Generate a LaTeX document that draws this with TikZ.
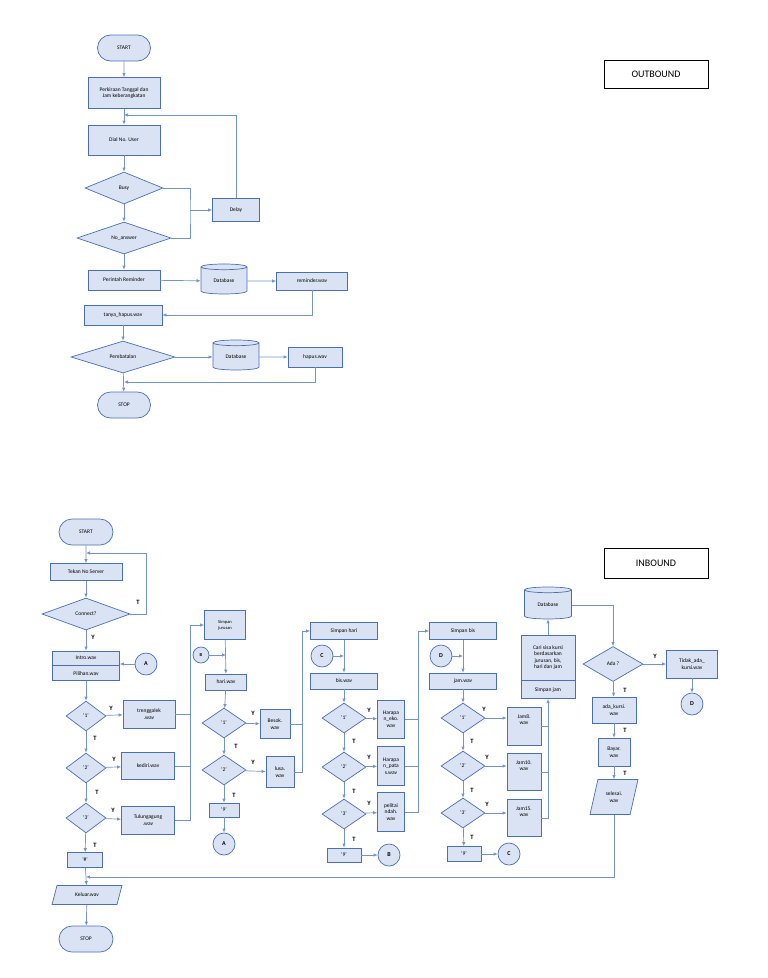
\documentclass[tikz,border=0pt]{standalone}
\usepackage{fontspec}
\setmainfont{Carlito}
\usetikzlibrary{shapes.geometric,shapes.misc,arrows.meta}
\definecolor{fl}{HTML}{DAE3F3}
\definecolor{bd}{HTML}{4A6FB5}
\definecolor{lnc}{HTML}{7393CF}
\begin{document}
\begin{tikzpicture}[x=1pt,y=-1pt,
 base/.style={draw=bd,fill=fl,line width=0.7pt,inner sep=1pt,align=center,font=\fontsize{5.5}{6.5}\selectfont},
 box/.style={base,rectangle},
 term/.style={base,rounded rectangle,minimum width=55,minimum height=26},
 dia/.style={base,diamond,inner sep=0pt},
 cir/.style={base,circle,minimum size=22,inner sep=0pt,font=\fontsize{6}{7}\selectfont\bfseries},
 db/.style={base,cylinder,shape border rotate=90,aspect=0.25,minimum height=30,minimum width=46},
 para/.style={base,trapezium,trapezium left angle=70,trapezium right angle=110,trapezium stretches=true},
 ln/.style={draw=lnc,line width=0.7pt},
 arr/.style={ln,-{Latex[length=4pt,width=3.5pt]},},
 lab/.style={font=\fontsize{6.5}{7}\selectfont\bfseries,inner sep=0pt}]
\useasboundingbox (0,0) rectangle (768,978);
% ---------- OUTBOUND ----------
\node[draw=black,line width=0.7pt,minimum width=104,minimum height=28,font=\fontsize{10}{12}\selectfont] (ob) at (656,74) {OUTBOUND};
\node[term] (s1) at (124,48) {START};
\node[box,minimum width=72,minimum height=31] (perk) at (124,93) {Perkiraan Tanggal dan\\Jam keberangkatan};
\node[box,minimum width=72,minimum height=30] (dial) at (124,140) {Dial No. User};
\node[dia,minimum width=78,minimum height=32] (busy) at (124,188) {Busy};
\node[dia,minimum width=94,minimum height=32] (noans) at (124,238) {No\_answer};
\node[box,minimum width=47,minimum height=23] (delay) at (236,210) {Delay};
\node[box,minimum width=72,minimum height=20] (perint) at (124,280) {Perintah Reminder};
\node[db] (db1) at (224,281) {Database};
\node[box,minimum width=71,minimum height=18] (rem) at (312,281) {reminder.wav};
\node[box,minimum width=78,minimum height=20] (tanya) at (123,315) {tanya\_hapus.wav};
\node[dia,minimum width=104,minimum height=32] (pemb) at (123,357) {Pembatalan};
\node[db] (db2) at (236,357) {Database};
\node[box,minimum width=54,minimum height=20] (hapus) at (315,357) {hapus.wav};
\node[term] (stop1) at (124,405) {STOP};
\coordinate (j1) at (190,210);
\coordinate (k1) at (124,115);
\coordinate (k2) at (124,382);
\draw[arr] (s1) -- (perk);
\draw[arr] (perk) -- (dial);
\draw[arr] (dial) -- (busy);
\draw[arr] (busy) -- (noans);
\draw[arr] (noans) -- (perint);
\draw[ln] (busy.east) -| (j1) |- (noans.east);
\draw[arr] (j1) -- (delay.west);
\draw[arr] (delay.north) |- (k1);
\draw[arr] (perint) -- (db1);
\draw[arr] (db1) -- (rem);
\draw[arr] (rem.south) |- (tanya.east);
\draw[arr] (tanya) -- (pemb);
\draw[arr] (pemb) -- (db2);
\draw[arr] (db2) -- (hapus);
\draw[arr] (hapus.south) |- (k2);
\draw[arr] (pemb) -- (stop1);
% ---------- INBOUND ----------
\node[draw=black,line width=0.7pt,minimum width=104,minimum height=30,font=\fontsize{10}{12}\selectfont] (ib) at (656,563) {INBOUND};
\node[term,minimum width=56] (s2) at (86,532) {START};
\node[box,minimum width=72,minimum height=17] (tekan) at (86,572) {Tekan No Server};
\node[dia,minimum width=88,minimum height=32] (conn) at (86,614) {Connect?};
\node[box,minimum width=67,minimum height=14] (intro) at (86,658) {Intro.wav};
\node[box,minimum width=67,minimum height=15,anchor=north] (pil) at (intro.south) {Pilihan.wav};
\node[cir] (A1) at (146,664) {A};
\node[dia,minimum width=40,minimum height=30] (d1) at (86,716) {‘1’};
\node[dia,minimum width=40,minimum height=30] (d2) at (86,768) {‘2’};
\node[dia,minimum width=40,minimum height=30] (d3) at (86,818) {‘3’};
\node[box,minimum width=35,minimum height=15] (hash) at (85,860) {‘\#’};
\node[para,minimum width=70,minimum height=19] (kel) at (87,895) {Keluar.wav};
\node[term,minimum width=56] (stop2) at (86,939) {STOP};
\node[box,minimum width=52,minimum height=28] (treng) at (149,714) {trenggalek\\.wav};
\node[box,minimum width=53,minimum height=27] (ked) at (148,766) {kediri.wav};
\node[box,minimum width=53,minimum height=28] (tul) at (148,820) {Tulungagung\\.wav};
\node[lab] at (138,602) {T};
\node[lab] at (93,637) {Y};
\node[lab] at (111,708) {Y};
\node[lab] at (114,759) {Y};
\node[lab] at (113,810) {Y};
\node[lab] at (95,738) {T};
\node[lab] at (97,792) {T};
\node[lab] at (95,845) {T};
\coordinate (k3) at (86,553);
\coordinate (bus1) at (190,0);
\draw[arr] (s2) -- (tekan);
\draw[arr] (tekan) -- (conn);
\draw[arr] (conn.east) -- ++(16,0) |- (k3);
\draw[arr] (conn) -- (intro);
\draw[arr] (A1) -- (A1 -| intro.east);
\draw[arr] (pil) -- (d1);
\draw[arr] (d1) -- (d2);
\draw[arr] (d2) -- (d3);
\draw[arr] (d3) -- (hash);
\draw[arr] (hash) -- (kel);
\draw[arr] (kel) -- (stop2);
\draw[arr] (d1) -- (treng);
\draw[arr] (d2) -- (ked);
\draw[arr] (d3) -- (tul);
% column 2
\node[box,minimum width=41,minimum height=29,font=\fontsize{4.5}{6}\selectfont] (sj) at (225,625) {Simpan\\jurusan};
\node[cir,minimum size=16,font=\fontsize{4.5}{5}\selectfont\bfseries] (B1) at (201,655) {B};
\node[box,minimum width=41,minimum height=16] (hari) at (226,682) {hari.wav};
\node[dia,minimum width=44,minimum height=30] (e1) at (224,723) {‘1’};
\node[dia,minimum width=44,minimum height=30] (e2) at (224,770) {‘2’};
\node[box,minimum width=30,minimum height=14] (e9) at (224,810) {‘9’};
\node[cir] (A2) at (224,844) {A};
\node[box,minimum width=30,minimum height=29] (besok) at (275,724) {Besok.\\wav};
\node[box,minimum width=28,minimum height=31] (lusa) at (280,772) {lusa.\\wav};
\node[lab] at (253,713) {Y};
\node[lab] at (253,762) {Y};
\node[lab] at (236,746) {T};
\node[lab] at (234,795) {T};
\draw[ln] (treng.east) -- (bus1 |- treng.east);
\draw[ln] (ked.east) -- (bus1 |- ked.east);
\draw[arr] (tul.east) -| (bus1 |- sj.west) -- (sj.west);
\draw[arr] (sj) -- (hari);
\draw[arr] (B1) -- (B1 -| hari.north);
\draw[arr] (hari) -- (e1);
\draw[arr] (e1) -- (e2);
\draw[arr] (e2) -- (e9);
\draw[arr] (e9) -- (A2);
\draw[arr] (e1) -- (besok);
\draw[arr] (e2) -- (lusa);
% column 3
\node[box,minimum width=67,minimum height=17] (sh) at (344,631) {Simpan hari};
\node[cir] (C1) at (322,656) {C};
\node[box,minimum width=67,minimum height=16] (bis) at (344,681) {bis.wav};
\node[dia,minimum width=44,minimum height=30] (f1) at (344,718) {‘1’};
\node[dia,minimum width=44,minimum height=30] (f2) at (344,767) {‘2’};
\node[dia,minimum width=44,minimum height=30] (f3) at (344,814) {‘3’};
\node[box,minimum width=34,minimum height=14] (f9) at (344,855) {‘9’};
\node[cir] (B2) at (389,855) {B};
\node[box,minimum width=27,minimum height=38] (h1) at (391,719) {Harapa\\n\_eko.\\wav};
\node[box,minimum width=27,minimum height=39] (h2) at (391,766) {Harapa\\n\_pata\\s.wav};
\node[box,minimum width=27,minimum height=39] (h3) at (391,812) {pelitai\\ndah.\\wav};
\node[lab] at (369,710) {Y};
\node[lab] at (369,757) {Y};
\node[lab] at (369,803) {Y};
\node[lab] at (354,741) {T};
\node[lab] at (354,791) {T};
\node[lab] at (354,839) {T};
\coordinate (bus2) at (302,0);
\draw[ln] (besok.east) -- (bus2 |- besok.east);
\draw[arr] (lusa.east) -| (bus2 |- sh.west) -- (sh.west);
\draw[arr] (sh) -- (bis);
\draw[arr] (C1) -- (C1 -| bis.north);
\draw[arr] (bis) -- (f1);
\draw[arr] (f1) -- (f2);
\draw[arr] (f2) -- (f3);
\draw[arr] (f3) -- (f9);
\draw[arr] (f9) -- (B2);
\draw[arr] (f1) -- (h1);
\draw[arr] (f2) -- (h2);
\draw[arr] (f3) -- (h3);
% column 4
\node[box,minimum width=67,minimum height=17] (sb) at (463,631) {Simpan bis};
\node[cir] (D1) at (441,656) {D};
\node[box,minimum width=67,minimum height=16] (jam) at (463,681) {jam.wav};
\node[dia,minimum width=44,minimum height=30] (g1) at (463,718) {‘1’};
\node[dia,minimum width=44,minimum height=30] (g2) at (463,766) {‘2’};
\node[dia,minimum width=44,minimum height=30] (g3) at (463,813) {‘3’};
\node[box,minimum width=34,minimum height=15] (g9) at (464,854) {‘9’};
\node[cir] (C2) at (509,854) {C};
\node[box,minimum width=34,minimum height=38] (j8) at (524,726) {Jam8.\\wav\\[6pt]};
\node[box,minimum width=34,minimum height=37] (j10) at (524,772) {Jam10.\\wav\\[6pt]};
\node[box,minimum width=34,minimum height=37] (j15) at (524,818) {Jam15.\\wav\\[6pt]};
\node[lab] at (484,709) {Y};
\node[lab] at (487,757) {Y};
\node[lab] at (487,804) {Y};
\node[lab] at (472,741) {T};
\node[lab] at (472,790) {T};
\node[lab] at (472,837) {T};
\coordinate (bus3) at (418,0);
\draw[ln] (h1.east) -- (bus3 |- h1.east);
\draw[ln] (h2.east) -- (bus3 |- h2.east);
\draw[arr] (h3.east) -| (bus3 |- sb.west) -- (sb.west);
\draw[arr] (sb) -- (jam);
\draw[arr] (D1) -- (D1 -| jam.north);
\draw[arr] (jam) -- (g1);
\draw[arr] (g1) -- (g2);
\draw[arr] (g2) -- (g3);
\draw[arr] (g3) -- (g9);
\draw[arr] (g9) -- (C2);
\draw[arr] (g1) -- (g1 -| j8.west);
\draw[arr] (g2) -- (g2 -| j10.west);
\draw[arr] (g3) -- (g3 -| j15.west);
% column 5
\node[box,minimum width=54,minimum height=45] (cari) at (548,657.5) {Cari sisa kursi\\berdasarkan\\jurusan, bis,\\hari dan jam};
\node[box,minimum width=54,minimum height=18,anchor=north] (sjm) at (cari.south) {Simpan jam};
\node[db,minimum width=47,minimum height=32] (db3) at (548,605) {Database};
\draw[ln] (j8.east) -- (j8.east -| sjm.south);
\draw[ln] (j10.east) -- (j10.east -| sjm.south);
\draw[arr] (j15.east) -| (sjm.south);
\draw[arr] (cari) -- (db3);
% column 6
\node[dia,minimum width=60,minimum height=35] (ada) at (613,664) {Ada ?};
\node[box,minimum width=51,minimum height=28] (tidak) at (692,664) {Tidak\_ada\_\\kursi.wav};
\node[cir] (D2) at (692,704) {D};
\node[box,minimum width=44,minimum height=26] (adak) at (614,710) {ada\_kursi.\\wav};
\node[box,minimum width=32,minimum height=28] (bayar) at (614,752) {Bayar.\\wav};
\node[para,minimum width=48,minimum height=35] (sel) at (614,797) {selesai.\\wav};
\node[lab] at (655,656) {Y};
\node[lab] at (625,690) {T};
\node[lab] at (625,730) {T};
\node[lab] at (625,773) {T};
\coordinate (k5) at (86,877);
\draw[arr] (db3.east) -| (ada.north);
\draw[arr] (ada) -- (tidak);
\draw[arr] (tidak) -- (D2);
\draw[arr] (ada) -- (adak);
\draw[arr] (adak) -- (bayar);
\draw[arr] (bayar) -- (sel);
\draw[arr] (sel.south) |- (k5);
\end{tikzpicture}
\end{document}
